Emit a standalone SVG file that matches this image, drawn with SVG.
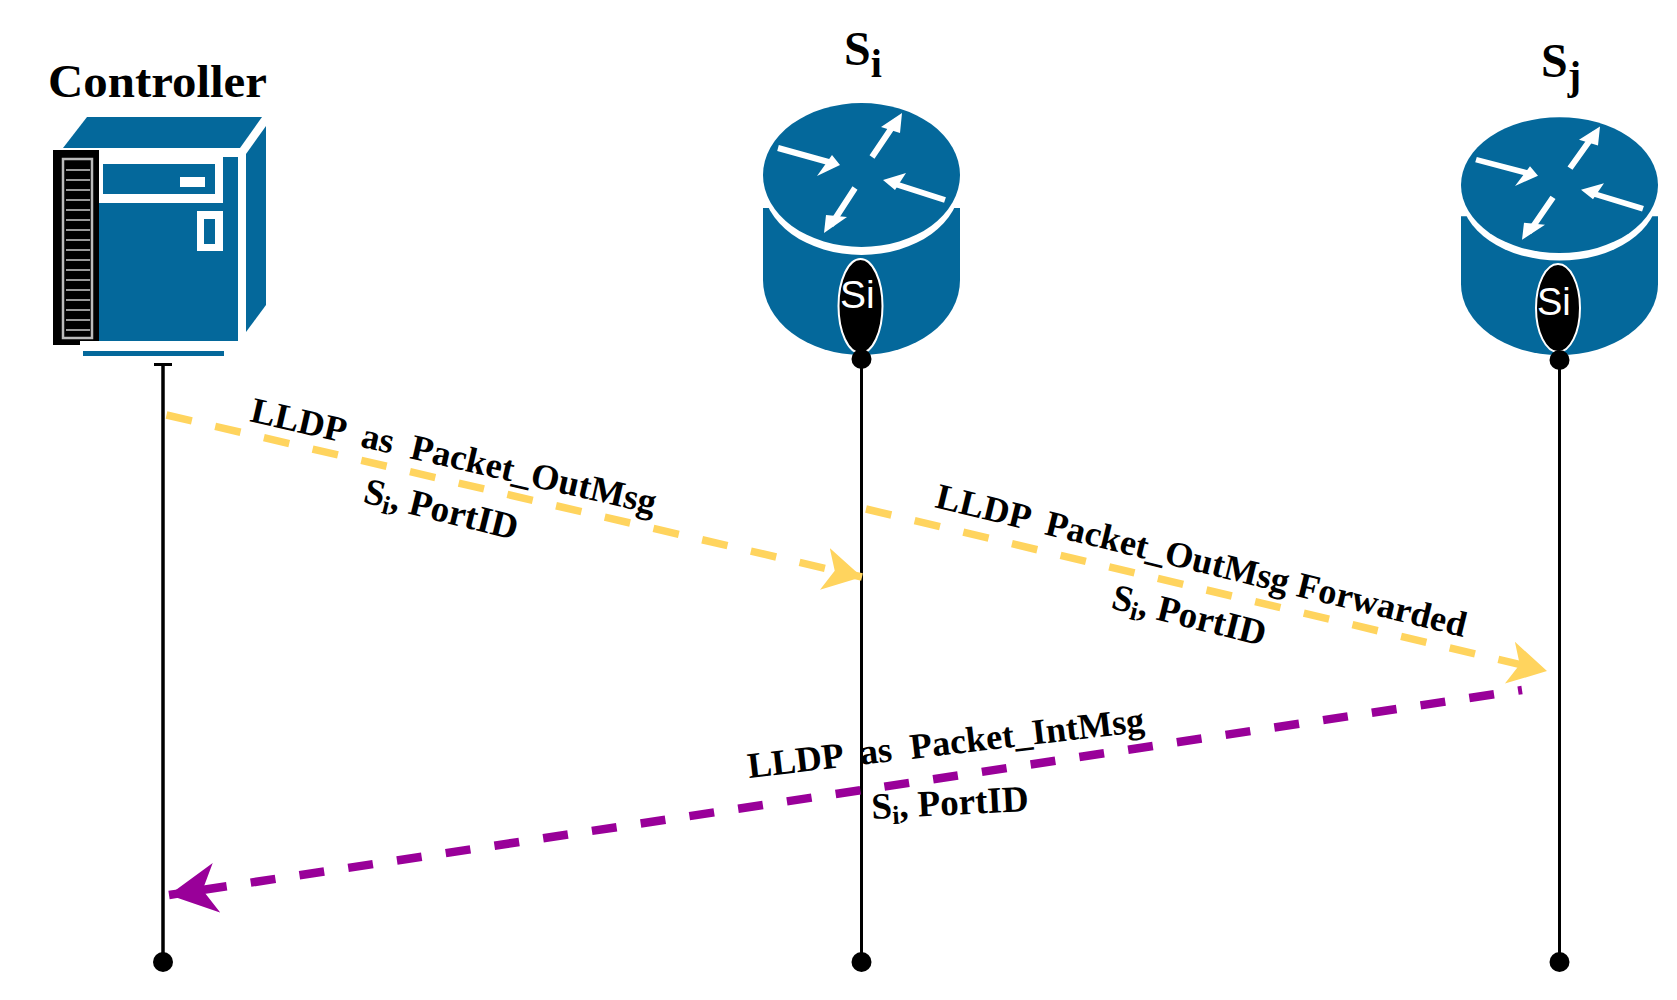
<svg xmlns="http://www.w3.org/2000/svg" width="1677" height="1000" viewBox="0 0 1677 1000">
<style>
.blue{fill:#04689b}
.life{stroke:#000;stroke-width:3;fill:none}
.msg{fill:none;stroke-width:7.500;stroke-dasharray:26 24}
.y{stroke:#ffd45e}
.p{stroke:#990099;stroke-width:8.500;stroke-dasharray:25 24.300;stroke-dashoffset:21}
.t{font-family:"Liberation Serif","Times New Roman",serif;font-weight:bold;fill:#000}
.lab{font-size:36px;white-space:pre}
.sub{font-size:37px}
.head{font-size:47px}
.si{font-family:"Liberation Sans",Arial,sans-serif;fill:#fff}
.wa{fill:none;stroke:#fff;stroke-width:6}
</style>
<defs>
<marker id="ah-y" markerUnits="userSpaceOnUse" markerWidth="40" markerHeight="46" refX="38" refY="22" orient="auto"><path d="M0,1 L38,22 L0,44 L10,22Z" fill="#ffd45e"/></marker>
<marker id="ah-p" markerUnits="userSpaceOnUse" markerWidth="50" markerHeight="54" refX="48" refY="26" orient="auto"><path d="M0,1 L48,26 L0,51 L14,26Z" fill="#990099"/></marker>
<g id="router-shape">
<path class="blue" d="M763,208 V280 A98.5,75 0 0 0 960,280 V208Z"/>
<ellipse cx="861.5" cy="183" rx="99" ry="72" fill="#fff"/>
<ellipse class="blue" cx="861.5" cy="175" rx="98.5" ry="72"/>
<path class="wa" d="M778,148 L832,163 M872,157 L897,120 M945,200 L892,183 M855,188 L831,225"/>
<path fill="#fff" d="M840,165 L832,155 L817,176Z M902,113 L881,127 L900,133Z M883,180 L906,173 L895,190Z M824,233 L826,215 L847,217Z"/>
</g>
</defs>

<g id="node-controller">
<path class="blue" d="M87,117 H262 L240,148 H63Z"/>
<path class="blue" d="M266,126 V305 L246,332 V154Z"/>
<path class="blue" d="M99,203 H223 V157 H238 V341 H99Z"/>
<rect class="blue" x="103" y="164" width="112" height="30"/>
<rect x="180" y="177" width="25" height="10" fill="#fff"/>
<rect x="197" y="211" width="26" height="40" fill="#fff"/>
<rect class="blue" x="204" y="219" width="11" height="25"/>
<rect class="blue" x="83" y="351" width="141" height="5"/>
<path fill="#000" d="M53,150 H99 V341 H80 V345 H53Z"/>
<rect x="63" y="159" width="29" height="179" fill="none" stroke="#bbb" stroke-width="2.5"/>
<path fill="none" stroke="#ccc" stroke-width="1.5" d="M66,170 H90 M66,180 H90 M66,190 H90 M66,200 H90 M66,210 H90 M66,220 H90 M66,230 H90 M66,240 H90 M66,250 H90 M66,260 H90 M66,270 H90 M66,280 H90 M66,290 H90 M66,300 H90 M66,310 H90 M66,320 H90 M66,330 H90"/>
<text class="t head" x="48" y="97" textLength="219" lengthAdjust="spacingAndGlyphs">Controller</text>
<path d="M154,364.500 H172" stroke="#000" stroke-width="3"/>
</g>

<g id="node-si">
<use href="#router-shape"/>
<ellipse cx="860.500" cy="306" rx="22" ry="47" fill="#000" stroke="#fff" stroke-width="2"/>
<text class="si" x="840" y="308" font-size="39">Si</text>
<text class="t" x="844" y="65" font-size="48">S<tspan font-size="40" dy="12">i</tspan></text>
</g>

<g id="node-sj">
<use href="#router-shape" transform="translate(698,19.900) scale(1,0.944)"/>
<ellipse cx="1558" cy="308" rx="22" ry="44" fill="#000" stroke="#fff" stroke-width="2"/>
<text class="si" x="1537" y="315" font-size="38">Si</text>
<text class="t" x="1541" y="77" font-size="48">S<tspan font-size="40" dy="12">j</tspan></text>
</g>

<g id="connectors">
<path class="life" stroke-width="3.500" style="stroke-width:3.500px" d="M163,364 V962"/>
<path class="life" d="M861.500,359 V962"/>
<path class="life" d="M1559.500,360 V962"/>
<circle cx="163" cy="962" r="10"/>
<circle cx="861.500" cy="962" r="10"/>
<circle cx="1559.500" cy="962" r="10"/>
<circle cx="861.500" cy="359" r="10"/>
<circle cx="1559.500" cy="360" r="10"/>
<path class="msg y" d="M166.500,415 L862,577" marker-end="url(#ah-y)"/>
<path class="msg y" d="M866,509 L1547,671" marker-end="url(#ah-y)"/>
<path class="msg p" d="M1522,690 L169,895" marker-end="url(#ah-p)"/>
</g>

<g id="labels">
<text class="t lab" transform="translate(249,421) rotate(13)" textLength="415" lengthAdjust="spacingAndGlyphs" xml:space="preserve">LLDP  as  Packet_OutMsg</text>
<text class="t sub" transform="translate(362,502) rotate(14)">S<tspan font-size="26" dy="6">i</tspan><tspan dy="-6">, PortID</tspan></text>
<text class="t lab" transform="translate(934,507) rotate(13.800)" textLength="545" lengthAdjust="spacingAndGlyphs" xml:space="preserve">LLDP  Packet_OutMsg Forwarded</text>
<text class="t sub" transform="translate(1110,608) rotate(14)">S<tspan font-size="26" dy="6">i</tspan><tspan dy="-6">, PortID</tspan></text>
<text class="t lab" transform="translate(749,778) rotate(-6.700)" textLength="399" lengthAdjust="spacingAndGlyphs" xml:space="preserve">LLDP  as  Packet_IntMsg</text>
<text class="t sub" transform="translate(872,819) rotate(-3)">S<tspan font-size="26" dy="6">i</tspan><tspan dy="-6">, PortID</tspan></text>
</g>
</svg>
